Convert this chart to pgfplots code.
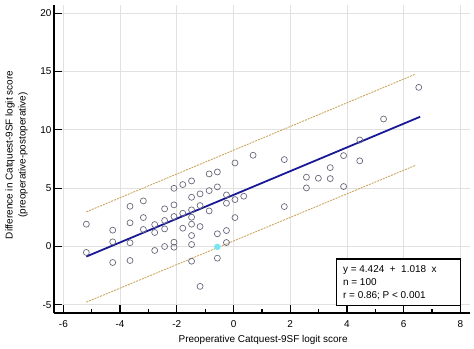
\documentclass[border=0pt]{standalone}
\usepackage{fontspec}
\setmainfont{Liberation Sans}
\usepackage{pgfplots}
\pgfplotsset{compat=1.18}
\definecolor{ptgray}{RGB}{105,105,125}
\definecolor{regblue}{RGB}{25,25,150}
\definecolor{bandtan}{RGB}{205,165,95}
\definecolor{cyanpt}{RGB}{120,230,240}
\definecolor{gridgray}{RGB}{225,225,225}
\begin{document}
\begin{tikzpicture}
\useasboundingbox (0,0) rectangle (474bp,349bp);
\begin{axis}[
  at={(54.3bp,36bp)}, anchor=south west,
  scale only axis, width=415.2bp, height=308bp,
  xmin=-6.32, xmax=8.32, ymin=-5.7, ymax=20.7,
  axis x line=bottom, axis y line=left,
  axis line style={-, black, line width=1.6bp},
  xtick={-6,-4,-2,0,2,4,6,8}, xticklabels={-6,-4,-2,0,2,4,6,8},
  ytick={-5,0,5,10,15,20}, yticklabels={-5,0,5,10,15,20},
  minor xtick={-5,-3,-1,1,3,5,7},
  tick align=inside,
  major tick length=8bp, minor tick length=3.5bp,
  every tick/.style={black, line width=1.2bp},
  grid=major, major grid style={gridgray, line width=0.8bp},
  ticklabel style={font=\fontsize{10}{12}\selectfont},
  xticklabel style={anchor=base, yshift=-14bp, inner sep=0pt},
  yticklabel style={anchor=east, inner sep=0pt, xshift=-2.6bp},
  xlabel={Preoperative Catquest-9SF logit score},
  xlabel style={at={(axis description cs:0.503,-0.095)}, anchor=base, font=\fontsize{10}{12}\selectfont},
  ylabel={Difference in Catquest-9SF logit score\\(preoperative-postoperative)},
  ylabel style={at={(axis description cs:-0.091,0.513)}, anchor=center, align=center, font=\fontsize{10}{13}\selectfont},
  clip=false,
]
\addplot[only marks, mark=o, mark size=3bp, ptgray, mark options={line width=0.7bp}] coordinates {
(-5.19,1.91) (-5.19,-0.51)
(-4.26,1.40) (-4.26,0.40) (-4.26,-1.37)
(-3.65,3.45) (-3.65,2.03) (-3.65,0.32) (-3.65,-1.20)
(-3.18,3.91) (-3.18,2.48) (-3.18,1.46)
(-2.78,1.88) (-2.78,1.20) (-2.78,-0.34)
(-2.43,3.23) (-2.43,2.23) (-2.43,1.51) (-2.43,0.0)
(-2.10,4.99) (-2.10,3.57) (-2.10,2.57) (-2.10,0.37) (-2.10,-0.06)
(-1.79,5.31) (-1.79,2.85) (-1.79,1.57)
(-1.48,5.62) (-1.48,4.22) (-1.48,3.14) (-1.48,2.51) (-1.48,1.91) (-1.48,0.94) (-1.48,0.17) (-1.48,-1.26)
(-1.18,4.51) (-1.18,3.51) (-1.18,1.71) (-1.18,-3.42)
(-0.86,6.22) (-0.86,4.79) (-0.86,3.05)
(-0.57,6.39) (-0.57,5.11) (-0.57,1.09) (-0.57,-1.00)
(-0.25,4.42) (-0.25,3.71) (-0.25,1.37) (-0.25,0.34)
(0.05,7.16) (0.05,4.02) (0.05,2.48)
(0.36,4.31)
(0.69,7.82)
(1.79,7.45) (1.79,3.42)
(2.57,5.94) (2.57,5.02)
(2.99,5.85)
(3.41,6.76) (3.41,5.82)
(3.88,7.79) (3.88,5.14)
(4.45,9.13) (4.45,7.34)
(5.29,10.93)
(6.53,13.64)
};
\addplot[only marks, mark=*, mark size=3bp, draw=cyanpt, fill=cyanpt] coordinates {(-0.57,-0.03)};
\addplot[regblue, line width=1.8bp] coordinates {(-5.19,-0.86) (6.58,11.12)};
\addplot[bandtan, line width=0.9bp, dash pattern=on 2bp off 1bp] coordinates {(-5.19,2.97) (6.42,14.78)};
\addplot[bandtan, line width=0.9bp, dash pattern=on 2bp off 1bp] coordinates {(-5.19,-4.77) (6.42,6.96)};
\draw[black, line width=1.2bp, fill=white] (axis cs:3.62,-5.03) rectangle (axis cs:8,-1.08);
\node[anchor=north west, inner sep=0pt, align=left, font=\fontsize{10}{13}\selectfont, xshift=6.7bp, yshift=-6.1bp] at (axis cs:3.62,-1.08) {y = 4.424\ \ +\ \ 1.018\ \ x\\n = 100\\r = 0.86; P < 0.001};
\end{axis}
\end{tikzpicture}
\end{document}
